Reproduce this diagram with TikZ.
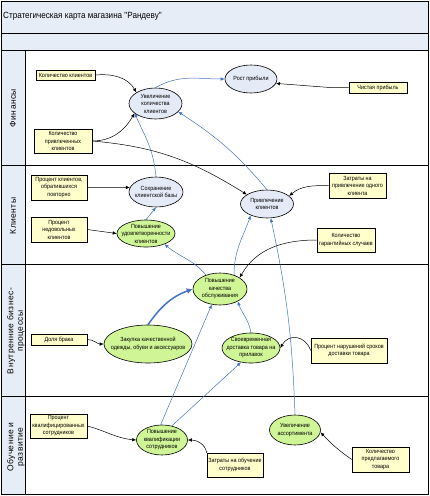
\documentclass[tikz,border=0pt]{standalone}
\usepackage{fontspec}
\setmainfont{Liberation Sans}
\newfontfamily\dfont[FakeStretch=0.9]{Liberation Sans}
\newfontfamily\lfont[LetterSpace=5]{Liberation Sans}
\usetikzlibrary{shapes.geometric,arrows.meta}
\definecolor{hdr}{RGB}{231,237,247}
\definecolor{eblue}{RGB}{228,234,246}
\definecolor{egreen}{RGB}{208,245,150}
\definecolor{ybox}{RGB}{255,255,204}
\definecolor{conn}{RGB}{68,114,196}
\tikzset{
 box/.style={draw, line width=0.6pt, fill=ybox, inner sep=0pt, align=center, font=\dfont\fontsize{6}{7.5}\selectfont},
 ell/.style={ellipse, draw, line width=0.6pt, inner xsep=-6pt, inner ysep=-3pt, align=center, font=\dfont\fontsize{6}{7.5}\selectfont},
 bl/.style={ell, fill=eblue},
 gr/.style={ell, fill=egreen},
 karr/.style={draw=black, line width=0.5pt, -{Latex[length=4pt,width=3.5pt]}},
 barr/.style={draw=conn, line width=0.5pt, -{Latex[length=4pt,width=3.5pt]}},
 frame/.style={line width=0.7pt},
 lane/.style={rotate=90, align=center, font=\lfont\fontsize{8.5}{9.5}\selectfont},
}
\begin{document}
\begin{tikzpicture}[x=1pt,y=1pt]
\useasboundingbox (0,0) rectangle (429,-496);
\fill[hdr] (1,-1) rectangle (428,-50);
\fill[hdr] (1,-50) rectangle (25,-494);
\draw[frame] (1,-1) rectangle (428,-494);
\foreach \yy in {33,50,165,264,396} \draw[frame] (1,-\yy) -- (428,-\yy);
\draw[frame] (25,-50) -- (25,-494);

\node[anchor=west, font=\dfont\fontsize{9}{11}\selectfont, inner sep=0pt] (title) at (3,-16) {Стратегическая карта магазина "Рандеву"};
\node[lane] (lf) at (13,-108) {Финансы};
\node[lane] (lk) at (13,-216) {Клиенты};
\node[lane] (lb) at (16,-331) {Внутренние бизнес-\\процессы};
\node[lane] (lo) at (16,-447) {Обучение и\\развитие};

% boxes
\node[box, minimum width=59pt, minimum height=10pt] (kk) at (65.5,-75) {Количество клиентов};
\node[box, minimum width=58pt, minimum height=24pt] (kpk) at (63,-141) {Количество\\привлеченных\\клиентов};
\node[box, minimum width=58pt, minimum height=11pt] (chp) at (378,-87.5) {Чистая прибыль};
\node[box, minimum width=56pt, minimum height=25pt] (pkop) at (59,-187.5) {Процент клиентов,\\обратившихся\\повторно};
\node[box, minimum width=56pt, minimum height=25pt] (pnk) at (59,-229.5) {Процент\\недовольных\\клиентов};
\node[box, minimum width=57pt, minimum height=25pt] (zpok) at (357.5,-185.5) {Затраты на\\привлечение одного\\клиента};
\node[box, minimum width=58pt, minimum height=24pt] (kgs) at (346,-240) {Количество\\гарантийных случаев};
\node[box, minimum width=56pt, minimum height=11pt] (db) at (59,-339.5) {Доля брака};
\node[box, minimum width=76pt, minimum height=25pt] (pnsd) at (349,-350.5) {Процент нарушений сроков\\доставки товара};
\node[box, minimum width=57pt, minimum height=24pt] (pks) at (58.5,-426) {Процент\\квалифицированных\\сотрудников};
\node[box, minimum width=56pt, minimum height=24pt] (zos) at (235,-465) {Затраты на обучение\\сотрудников};
\node[box, minimum width=57pt, minimum height=25pt] (kpt) at (380.5,-459.5) {Количество\\предлагаемого\\товара};

% ellipses
\node[bl, minimum width=53pt, minimum height=31pt] (ukk) at (155.5,-103.5) {Увеличение\\количества\\клиентов};
\node[bl, minimum width=52pt, minimum height=28pt] (rp) at (251,-79) {Рост прибыли};
\node[bl, minimum width=54pt, minimum height=30pt] (skb) at (156,-192) {Сохранение\\клиентской базы};
\node[bl, minimum width=53pt, minimum height=28pt] (pk) at (267,-204) {Привлечение\\клиентов};
\node[gr, minimum width=58pt, minimum height=27pt] (puk) at (146,-233.5) {Повышение\\удовлетворенности\\клиентов};
\node[gr, minimum width=54pt, minimum height=32pt] (pko) at (220,-289) {Повышение\\качества\\обслуживания};
\node[gr, minimum width=79pt, minimum height=38pt] (zk) at (148,-344) {Закупка качественной\\одежды, обуви и аксессуаров};
\node[gr, minimum width=58pt, minimum height=30pt] (sd) at (251,-348) {Своевременная\\доставка товара на\\прилавок};
\node[gr, minimum width=51pt, minimum height=30pt] (pkv) at (162,-440) {Повышение\\квалификации\\сотрудников};
\node[gr, minimum width=51pt, minimum height=30pt] (ua) at (295,-430) {Увеличение\\ассортимента};

% black connectors
\draw[karr] (kk.east) to[out=5,in=120] (ukk.150);
\draw[karr] (kpk.east) to[out=0,in=240] (ukk.205);
\draw[karr] (kpk.east) to[out=-5,in=148] (pk.155);
\draw[karr] (chp.west) -- ++(-19,0) -- (rp.-10);
\draw[karr] (pkop.east) -- (skb.170);
\draw[karr] (pnk.east) -- (puk.west);
\draw[karr] (zpok.west) to[out=180,in=40] (pk.20);
\draw[karr] (kgs.west) to[out=180,in=60] (pko.30);
\draw[karr] (db.east) to[out=0,in=180] (zk.west);
\draw[karr] (pnsd.west) to[out=110,in=60,looseness=1.4] (sd.east);
\draw[karr] (pks.east) to[out=-15,in=175] (pkv.west);
\draw[karr] (zos.north west) to[out=100,in=0] (pkv.east);
\draw[karr] (kpt.west) to[bend left=6] (ua.-5);

% blue connectors
\draw[barr] (ukk.north) to[out=30,in=180] (rp.west);
\draw[barr] (pk.north) to[out=130,in=-33] (ukk.-20);
\draw[barr] (skb.north) to[out=95,in=-65] (ukk.205);
\draw[barr] (puk.north) -- (skb.south);
\draw[barr] (pko.135) to[out=130,in=-40] (puk.-30);
\draw[barr] (pko.45) to[out=90,in=-110] (pk.215);
\draw[barr] (ua.north) to[bend right=5] (pk.-75);
\draw[barr, line width=1.5pt, -{Latex[length=6pt,width=6pt]}] (zk.north) to[out=55,in=200] (pko.west);
\draw[barr] (sd.north) to[out=100,in=-70] (pko.-35);
\draw[barr] (pkv.95) -- (pko.-118);
\draw[barr] (pkv.55) -- (sd.-125);
\end{tikzpicture}
\end{document}
